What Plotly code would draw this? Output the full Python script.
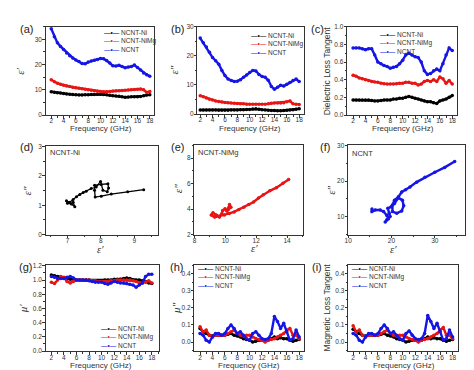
import plotly.graph_objects as go

W, H = 474, 370

# ---------------- data ----------------
freq = [2, 2.5, 3, 3.5, 4, 4.5, 5, 5.5, 6, 6.5, 7, 7.5, 8, 8.5, 9, 9.5, 10,
        10.5, 11, 11.5, 12, 12.5, 13, 13.5, 14, 14.5, 15, 15.5, 16, 16.5, 17, 17.5, 18]

series_names = ["NCNT-Ni", "NCNT-NiMg", "NCNT"]

# (a) real permittivity
eps1_ni = [9.2, 9.0, 8.8, 8.7, 8.5, 8.3, 8.2, 8.1, 8.0, 7.9, 7.9, 8.0, 8.0, 8.1, 8.1, 8.2, 8.2,
           8.1, 8.0, 7.8, 7.6, 7.5, 7.4, 7.2, 7.0, 7.1, 7.2, 7.2, 7.2, 7.3, 7.6, 7.9, 8.0]
eps1_nimg = [14.0, 13.2, 12.6, 12.2, 11.8, 11.5, 11.3, 11.0, 10.8, 10.6, 10.4, 10.2, 10.0, 9.8, 9.6, 9.4, 9.3,
             9.2, 9.2, 9.3, 9.5, 9.6, 9.6, 9.7, 9.8, 9.9, 10.0, 10.1, 10.2, 10.3, 10.0, 9.0, 9.3]
eps1_ncnt = [34.2, 31.0, 28.6, 27.2, 26.0, 24.6, 23.5, 22.6, 21.8, 21.2, 20.4, 20.3, 21.0, 21.4, 21.7, 22.0, 22.4,
             22.3, 21.6, 20.6, 19.5, 19.4, 19.7, 19.2, 18.7, 19.0, 19.2, 19.8, 18.8, 17.8, 16.7, 16.0, 15.4]

# (b) imaginary permittivity
eps2_ni = [1.4, 1.4, 1.4, 1.4, 1.4, 1.35, 1.3, 1.3, 1.3, 1.3, 1.35, 1.4, 1.4, 1.45, 1.5, 1.55, 1.6,
           1.7, 1.8, 1.65, 1.5, 1.4, 1.3, 1.2, 1.2, 1.15, 1.1, 1.2, 1.3, 1.4, 1.5, 1.65, 1.8]
eps2_nimg = [6.3, 5.9, 5.5, 5.1, 4.8, 4.5, 4.3, 4.1, 4.0, 3.9, 3.8, 3.7, 3.6, 3.5, 3.5, 3.4, 3.4,
             3.4, 3.4, 3.4, 3.4, 3.4, 3.5, 3.7, 3.8, 3.8, 3.8, 3.9, 4.2, 4.5, 3.5, 3.4, 3.3]
eps2_ncnt = [26.1, 24.5, 23.0, 21.2, 19.4, 18.3, 17.1, 15.0, 13.2, 12.0, 11.5, 11.2, 11.3, 11.8, 12.6, 13.4, 14.3,
             15.0, 14.8, 13.6, 12.9, 12.6, 11.6, 9.5, 8.5, 9.2, 9.9, 9.6, 10.2, 10.8, 11.5, 12.0, 11.2]

# (c) dielectric loss tangent
tane_ni = [0.17, 0.17, 0.17, 0.17, 0.17, 0.17, 0.165, 0.16, 0.16, 0.165, 0.17, 0.17, 0.17, 0.18, 0.18, 0.19, 0.19,
           0.20, 0.21, 0.20, 0.19, 0.18, 0.17, 0.16, 0.15, 0.15, 0.14, 0.13, 0.16, 0.17, 0.18, 0.20, 0.22]
tane_nimg = [0.45, 0.44, 0.42, 0.41, 0.40, 0.39, 0.38, 0.375, 0.37, 0.36, 0.355, 0.35, 0.35, 0.35, 0.355, 0.36, 0.36,
             0.37, 0.37, 0.36, 0.36, 0.34, 0.35, 0.38, 0.39, 0.38, 0.40, 0.38, 0.43, 0.41, 0.36, 0.39, 0.35]
tane_ncnt = [0.76, 0.76, 0.76, 0.75, 0.74, 0.75, 0.75, 0.68, 0.60, 0.58, 0.56, 0.55, 0.53, 0.54, 0.55, 0.58, 0.62,
             0.68, 0.70, 0.68, 0.66, 0.65, 0.60, 0.50, 0.46, 0.47, 0.50, 0.52, 0.50, 0.58, 0.68, 0.76, 0.73]

# (d)-(f) Cole-Cole plots
cc_ni_eps1 = [9.28, 8.80, 8.31, 8.01, 7.83, 7.81, 7.81, 8.01, 8.21, 8.23, 8.19, 8.06, 7.99, 7.86, 7.71,
              7.56, 7.47, 7.37, 7.27, 7.17, 7.07, 6.97, 7.00, 7.12, 7.22, 7.17]
cc_ni_eps2 = [1.53, 1.46, 1.38, 1.31, 1.28, 1.51, 1.68, 1.71, 1.73, 1.59, 1.46, 1.51, 1.81, 1.62, 1.57,
              1.48, 1.43, 1.37, 1.29, 1.20, 1.10, 1.15, 1.07, 1.04, 0.95, 1.10]
cc_nimg_eps1 = [14.1, 13.73, 13.31, 12.88, 12.46, 12.15, 11.83, 11.52, 11.2, 10.88, 10.57, 10.25, 9.94, 9.62,
                9.31, 9.09, 9.2, 9.41, 9.62, 9.77, 9.83, 9.98, 10.1, 10.21, 10.27, 10.36, 10.19]
cc_nimg_eps2 = [6.33, 6.03, 5.69, 5.44, 5.13, 4.87, 4.56, 4.36, 4.15, 3.97, 3.79, 3.67, 3.54, 3.46,
                3.38, 3.54, 3.72, 3.54, 3.38, 3.64, 3.9, 4.03, 3.85, 4.1, 4.36, 4.15, 3.97]
cc_ncnt_eps1 = [34.58, 32.29, 30.0, 27.71, 25.8, 24.27, 23.28, 22.37, 21.6, 20.69, 20.23, 20.23, 21.22, 22.37,
                22.82, 22.52, 21.6, 20.69, 19.92, 19.16, 19.47, 19.69, 18.93, 18.55, 19.31, 18.93, 18.17,
                17.4, 16.26, 15.5, 15.5]
cc_ncnt_eps2 = [25.5, 23.85, 22.48, 21.1, 19.72, 18.35, 17.61, 16.97, 15.6, 14.68, 13.3, 11.47, 11.0, 11.65,
                13.12, 14.68, 15.32, 13.76, 12.84, 12.39, 11.0, 10.09, 9.17, 8.53, 9.45, 10.37, 11.47,
                11.93, 11.93, 11.47, 12.2]

# (g) real permeability
mu1_ni = [1.07, 1.06, 1.05, 1.04, 1.03, 1.02, 1.01, 1.00, 1.00, 1.00, 1.00, 1.00, 1.00, 0.99, 0.99, 0.99, 0.99,
          1.00, 1.00, 1.00, 1.01, 1.01, 1.01, 1.02, 1.03, 1.02, 1.00, 1.00, 1.00, 0.99, 0.98, 0.96, 0.95]
mu1_nimg = [0.97, 0.95, 1.00, 1.05, 1.04, 0.98, 0.96, 0.98, 1.00, 1.00, 1.00, 1.00, 1.00, 0.99, 0.99, 0.98, 0.98,
            0.98, 0.98, 0.99, 0.99, 1.00, 1.00, 1.00, 1.00, 1.00, 0.99, 0.98, 0.96, 0.96, 0.97, 0.99, 0.96]
mu1_ncnt = [1.05, 1.04, 1.02, 1.02, 1.02, 1.04, 1.05, 1.03, 1.00, 1.00, 1.00, 1.00, 0.99, 0.98, 0.97, 0.97, 0.97,
            0.95, 0.94, 0.96, 0.98, 0.97, 0.96, 0.96, 0.95, 0.94, 0.93, 0.90, 0.93, 0.96, 1.05, 1.08, 1.08]

# (h) imaginary permeability
mu2_ni = [0.08, 0.06, 0.05, 0.04, 0.035, 0.04, 0.04, 0.04, 0.04, 0.045, 0.05, 0.04, 0.035, 0.03, 0.02, 0.015, 0.01,
          0.0, 0.005, 0.01, 0.01, 0.01, 0.01, 0.02, 0.03, 0.02, 0.025, 0.02, 0.02, 0.01, 0.005, 0.01, 0.015]
mu2_nimg = [0.09, 0.06, 0.07, 0.04, 0.03, 0.04, 0.04, 0.04, 0.04, 0.05, 0.06, 0.07, 0.05, 0.04, 0.035, 0.04, 0.04,
            0.03, 0.02, 0.015, 0.01, 0.0, 0.01, 0.015, 0.02, 0.03, 0.04, 0.05, 0.07, 0.08, 0.04, 0.04, 0.02]
mu2_ncnt = [0.05, 0.04, 0.01, 0.00, 0.03, 0.05, 0.05, 0.04, 0.05, 0.08, 0.10, 0.08, 0.05, 0.06, 0.04, 0.02, 0.01,
            0.05, 0.06, 0.04, 0.02, 0.015, 0.02, 0.05, 0.15, 0.12, 0.08, 0.11, 0.06, 0.01, 0.02, 0.07, 0.03]

# (i) magnetic loss tangent
tanm_ni = [0.075, 0.06, 0.05, 0.04, 0.035, 0.04, 0.04, 0.04, 0.04, 0.045, 0.05, 0.04, 0.035, 0.03, 0.02, 0.015, 0.01,
           0.0, 0.005, 0.01, 0.01, 0.01, 0.01, 0.02, 0.03, 0.02, 0.025, 0.02, 0.02, 0.01, 0.005, 0.01, 0.015]
tanm_nimg = [0.095, 0.06, 0.07, 0.04, 0.03, 0.04, 0.04, 0.04, 0.04, 0.05, 0.06, 0.07, 0.05, 0.04, 0.035, 0.04, 0.04,
             0.03, 0.02, 0.015, 0.01, 0.0, 0.01, 0.015, 0.02, 0.03, 0.04, 0.05, 0.07, 0.085, 0.04, 0.04, 0.02]
tanm_ncnt = [0.05, 0.04, 0.01, 0.00, 0.03, 0.05, 0.05, 0.04, 0.05, 0.08, 0.10, 0.08, 0.05, 0.06, 0.04, 0.02, 0.01,
             0.05, 0.065, 0.04, 0.02, 0.015, 0.02, 0.05, 0.155, 0.12, 0.08, 0.11, 0.06, 0.01, 0.02, 0.07, 0.03]

COLORS = ["#000000", "#e81515", "#1515e6"]
FONT = "Liberation Sans, Arial, sans-serif"
SERIF = "Liberation Serif, Times New Roman, serif"

def xp(px):
    return px / W

def yp(py):
    return 1 - py / H

panels = [
    dict(box=(34, 15, 143, 105), xr=[1.1, 18.65], yr=[0, 35], xd=2, yd=10, yf="", xm=1, ym=5),
    dict(box=(187, 15, 294, 104), xr=[1.55, 18.7], yr=[0, 30], xd=2, yd=10, yf="", xm=1, ym=5),
    dict(box=(338, 15, 449, 105), xr=[1.05, 18.8], yr=[0, 1.0], xd=2, yd=0.2, yf=".1f", xm=1, ym=0.1),
    dict(box=(34, 137, 147, 227), xr=[6.35, 9.7], yr=[0, 3], xd=1, yd=1, yf="", xm=0.5, ym=0.5),
    dict(box=(184, 136, 293, 227), xr=[8, 15], yr=[2, 9], xd=2, yd=2, yf="", xm=1, ym=1),
    dict(box=(339, 136, 457, 227), xr=[10, 37], yr=[5, 30], xd=10, yd=10, yf="", xm=5, ym=5),
    dict(box=(34, 258, 148, 346), xr=[1.1, 19.1], yr=[-0.005, 1.21], xd=2, yd=0.2, yf=".1f", xm=1, ym=0.1),
    dict(box=(184, 258, 294, 346), xr=[1.1, 18.7], yr=[-0.055, 0.45], xd=2, yd=0.1, yf=".1f", xm=1, ym=0.05),
    dict(box=(339, 258, 450, 346), xr=[1.2, 18.9], yr=[-0.055, 0.45], xd=2, yd=0.1, yf=".1f", xm=1, ym=0.05),
]

fig = go.Figure()

freq_sets = [
    (eps1_ni, eps1_nimg, eps1_ncnt),
    (eps2_ni, eps2_nimg, eps2_ncnt),
    (tane_ni, tane_nimg, tane_ncnt),
    None, None, None,
    (mu1_ni, mu1_nimg, mu1_ncnt),
    (mu2_ni, mu2_nimg, mu2_ncnt),
    (tanm_ni, tanm_nimg, tanm_ncnt),
]

for k, sets in enumerate(freq_sets):
    if sets is None:
        continue
    ax = "" if k == 0 else str(k + 1)
    for s, (vals, col, name) in enumerate(zip(sets, COLORS, series_names)):
        fig.add_trace(go.Scatter(
            x=freq, y=vals, mode="lines+markers", name=name,
            line=dict(color=col, width=2.4), marker=dict(color=col, size=3.5),
            xaxis="x" + ax, yaxis="y" + ax, showlegend=False))

cole = [(cc_ni_eps1, cc_ni_eps2, COLORS[0], 1.3, 3),
        (cc_nimg_eps1, cc_nimg_eps2, COLORS[1], 2.4, 3.5),
        (cc_ncnt_eps1, cc_ncnt_eps2, COLORS[2], 2.4, 3.5)]
for j, (xv, yv, col, lw, ms) in enumerate(cole):
    ax = str(4 + j)
    fig.add_trace(go.Scatter(
        x=xv, y=yv, mode="lines+markers", line=dict(color=col, width=lw),
        marker=dict(color=col, size=ms), xaxis="x" + ax, yaxis="y" + ax,
        showlegend=False))

layout = dict(
    width=W, height=H, margin=dict(l=0, r=0, t=0, b=0),
    paper_bgcolor="white", plot_bgcolor="white",
    font=dict(family=FONT, size=7, color="#333"),
    showlegend=False,
)

for k, p in enumerate(panels):
    l, t, r, b = p["box"]
    ax = "" if k == 0 else str(k + 1)
    common = dict(showline=True, linecolor="#333", linewidth=1, mirror=True,
                  ticks="outside", ticklen=2.5, tickwidth=1, tickcolor="#333",
                  showgrid=False, zeroline=False,
                  tickfont=dict(family=FONT, size=6.5, color="#333"))
    layout["xaxis" + ax] = dict(domain=[xp(l), xp(r)], range=p["xr"], anchor="y" + ax,
                                dtick=p["xd"], tick0=0, ticklabelstandoff=-3,
                                minor=dict(ticks="outside", ticklen=1.5, dtick=p["xm"], tick0=0, tickcolor="#333"),
                                **common)
    layout["yaxis" + ax] = dict(domain=[yp(b), yp(t)], range=p["yr"], anchor="x" + ax,
                                dtick=p["yd"], tick0=0, tickformat=p["yf"], ticklabelstandoff=-1,
                                minor=dict(ticks="outside", ticklen=1.5, dtick=p["ym"], tick0=0, tickcolor="#333"),
                                **common)

fig.update_layout(**layout)

ann = []

def text(x, y, s, size=7, family=FONT, color="#333", angle=0, xanchor="center", yanchor="middle", align="center"):
    ann.append(dict(x=xp(x), y=yp(y), xref="paper", yref="paper", text=s, showarrow=False,
                    font=dict(size=size, family=family, color=color), textangle=angle,
                    xanchor=xanchor, yanchor=yanchor, align=align, borderpad=0))

# panel labels
labels = [("(a)", 15, 17), ("(b)", 167, 17), ("(c)", 308, 17),
          ("(d)", 15, 138), ("(e)", 167, 138), ("(f)", 316, 138),
          ("(g)", 14, 260), ("(h)", 166, 260), ("(i)", 308, 260)]
for s, x, y in labels:
    text(x, y, s, size=11, color="#222")

# y-axis titles
text(8, 60, "<i>ε′</i>", size=11, family=SERIF, angle=-90)
text(163, 59, "<i>ε″</i>", size=11, family=SERIF, angle=-90)
text(318, 60, "Dielectric Loss Tangent", size=8.5, angle=-90)
text(15, 182, "<i>ε″</i>", size=11, family=SERIF, angle=-90)
text(167, 180, "<i>ε″</i>", size=11, family=SERIF, angle=-90)
text(321, 182, "<i>ε″</i>", size=11, family=SERIF, angle=-90)
text(11, 302, "<i>μ′</i>", size=11, family=SERIF, angle=-90)
text(166, 302, "<i>μ″</i>", size=11, family=SERIF, angle=-90)
text(318, 301, "Magnetic Loss Tangent", size=8.5, angle=-90)

# x-axis titles
for x, y in [(90, 119), (240, 119), (394, 119), (90, 360), (239, 360), (395, 360)]:
    text(x, y, "Frequency (GHz)", size=8)
text(89, 242, "<i>ε′</i>", size=10.5, family=SERIF)
text(245, 241, "<i>ε′</i>", size=10.5, family=SERIF)
text(385, 242, "<i>ε′</i>", size=10.5, family=SERIF)

# inset sample labels
text(37, 143, "NCNT-Ni", size=7.5, xanchor="left")
text(187, 143, "NCNT-NiMg", size=7.5, xanchor="left")
text(342, 144, "NCNT", size=7.5, xanchor="left")

# legends (symbol + label), one block per panel
legend_pos = [(92, 16), (240, 19), (370, 18), (89, 318), (187, 257), (342, 257)]
for x0, y0 in legend_pos:
    rows = ["<span style='color:%s'>—•—</span> %s" % (c, n) for c, n in zip(COLORS, series_names)]
    text(x0, y0, "<br>".join(rows), size=6.5, xanchor="left", yanchor="top", align="left")

fig.update_layout(annotations=ann)
fig.write_html("out.html")
